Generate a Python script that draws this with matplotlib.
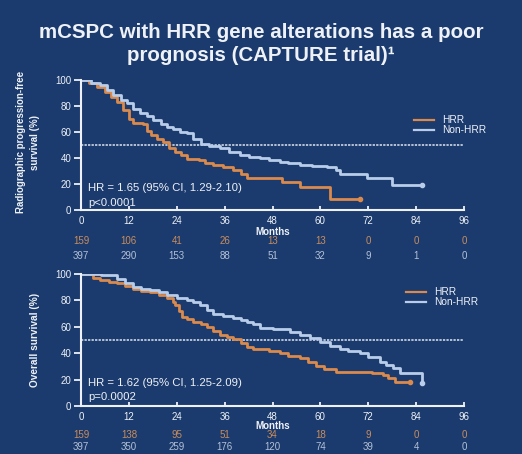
import matplotlib
matplotlib.use("Agg")
import matplotlib.pyplot as plt
import matplotlib.transforms as mtransforms

plt.rcParams['font.family'] = ['Liberation Sans', 'DejaVu Sans']

# ---- data ----
months_ticks = [0, 12, 24, 36, 48, 60, 72, 84, 96]

# rPFS
rpfs_hrr_t = [0, 2, 4, 6, 7.5, 9, 10.5, 12, 13, 15.5, 16.5, 17.5, 19, 20.5, 22, 23.5, 25, 26.5,
              29.5, 31, 33, 35.5, 38, 40, 41.5, 49.5, 50.5, 55, 62.5, 70]
rpfs_hrr_s = [100, 98, 95, 91, 87, 83, 77, 70, 67, 66, 61, 58, 55, 52, 48, 45, 42, 39,
              38.5, 36, 34.6, 33, 31, 28, 24.5, 24.5, 21.8, 18, 8.2, 8.2]
rpfs_non_t = [0, 2.5, 4.8, 6.5, 8, 10, 11.5, 13, 14.8, 16.5, 18, 20, 21.5, 23, 24.8, 26.5, 28, 30,
              32, 34.8, 37, 39.8, 42, 44.8, 47, 49.9, 52, 54.9, 58, 61.6, 64, 65, 71.6, 78, 85.5]
rpfs_non_s = [100, 98, 96, 92, 88.5, 85, 82, 78, 74.4, 72, 69, 66.5, 64, 62, 60, 59, 55, 51,
              49.5, 47.4, 45, 42.3, 41, 40, 38.5, 37, 36, 34.6, 34, 33, 31, 27.7, 25, 19.2, 19.2]
rpfs_risk_hrr = [159, 106, 41, 26, 13, 13, 0, 0, 0]
rpfs_risk_non = [397, 290, 153, 88, 51, 32, 9, 1, 0]

# OS
os_hrr_t = [0, 3, 4.8, 7, 9, 11, 13, 15, 17.3, 19.5, 21.5, 23, 23.6, 24.5, 25.2, 26.5, 28, 30,
            31.5, 33, 34.8, 36.5, 38, 40, 41.5, 43, 44.8, 47, 49.9, 52, 54.9, 57, 59, 61, 64,
            69.9, 73, 75.7, 77, 78.7, 82.5]
os_hrr_s = [100, 97, 95.5, 94, 93, 91, 89, 87.5, 86, 84, 81.6, 79, 76.5, 72, 67.7, 66, 63.9, 62,
            60, 57, 53.8, 52, 50.5, 48, 45, 43.5, 43, 42, 40, 38, 36, 33, 30.3, 28, 26,
            25.5, 25, 23.5, 21, 18.4, 18.4]
os_non_t = [0, 5, 7.3, 9, 11, 13, 15, 17.3, 19.5, 21.5, 24, 26.5, 28, 29.8, 31.5, 33, 35.5, 38,
            40, 41.5, 43, 44.8, 48, 52.4, 55, 57.4, 60, 62.4, 65, 67, 69.9, 72, 74.9, 76.5, 78.2,
            79.9, 85.5, 85.5]
os_non_s = [100, 99.5, 99, 96, 93, 90.4, 89, 88, 86, 84, 82, 80.3, 78.5, 76.5, 73, 70, 68, 67,
            65.5, 64, 62, 59.3, 58, 56.3, 54, 51.3, 48.5, 45.5, 43.5, 42, 40, 37.5, 33.6, 31, 28.5,
            25.3, 25.3, 17.7]
os_risk_hrr = [159, 138, 95, 51, 34, 18, 9, 0, 0]
os_risk_non = [397, 350, 259, 176, 120, 74, 39, 4, 0]

# ---- style ----
bg = '#1b3b6e'
white = '#eef1f6'
c_hrr = '#d98a4c'
c_non = '#b9cdea'
c_risk_hrr = '#c98d5c'
c_risk_non = '#b4c1d6'

W, H = 522, 454
fig = plt.figure(figsize=(W / 100, H / 100), dpi=100, facecolor=bg)


def fy(py):
    return 1 - py / H


fig.text(0.5, fy(32), 'mCSPC with HRR gene alterations has a poor', ha='center', va='center',
         color=white, fontsize=14.8, fontweight='bold')
fig.text(0.5, fy(55.5), 'prognosis (CAPTURE trial)¹', ha='center', va='center',
         color=white, fontsize=14.8, fontweight='bold')


def km_panel(top_px, bot_px, hrr, non, risk_hrr, risk_non, hr_text, p_text,
             hr_py, p_py, months_py, rh_py, rn_py, leg_anchor):
    ax = fig.add_axes([81 / W, 1 - bot_px / H, (464 - 81) / W, (bot_px - top_px) / H])
    ax.set_facecolor('none')
    ax.set_xlim(0, 96)
    ax.set_ylim(0, 100)
    for s in ['top', 'right']:
        ax.spines[s].set_visible(False)
    for s in ['left', 'bottom']:
        ax.spines[s].set_color(white)
        ax.spines[s].set_linewidth(1.5)
    ax.set_xticks(months_ticks)
    ax.set_yticks([0, 20, 40, 60, 80, 100])
    ax.tick_params(axis='y', direction='out', length=5, width=1.3, colors=white,
                   labelsize=7, pad=2)
    ax.tick_params(axis='x', direction='in', length=3, width=1.3, colors=white,
                   labelsize=7, pad=4)
    ax.hlines(50, 0, 96, colors='#dfe5ef', linestyles=(0, (1.5, 0.8)), lw=1.1)

    ax.step(hrr[0], hrr[1], where='post', color=c_hrr, lw=2, label='HRR',
            marker='o', markersize=3, markevery=[len(hrr[0]) - 1])
    ax.step(non[0], non[1], where='post', color=c_non, lw=2, label='Non-HRR',
            marker='o', markersize=3, markevery=[len(non[0]) - 1])

    tr = mtransforms.blended_transform_factory(ax.transData, fig.transFigure)
    ax.text(1.7, fy(hr_py), hr_text, transform=tr, color=white, fontsize=8.2, va='center')
    ax.text(1.7, fy(p_py), p_text, transform=tr, color=white, fontsize=8.2, va='center')

    ax.text(48, fy(months_py), 'Months', transform=tr, color=white, fontsize=7,
            fontweight='bold', ha='center', va='center')
    for m, a, b in zip(months_ticks, risk_hrr, risk_non):
        ax.text(m, fy(rh_py), str(a), transform=tr, color=c_risk_hrr, fontsize=7,
                ha='center', va='center', clip_on=False)
        ax.text(m, fy(rn_py), str(b), transform=tr, color=c_risk_non, fontsize=7,
                ha='center', va='center', clip_on=False)

    leg = ax.legend(loc='upper left', bbox_to_anchor=leg_anchor, frameon=False,
                    fontsize=7.3, handlelength=2.0, handletextpad=0.8, labelspacing=0.0,
                    borderpad=0, borderaxespad=0)
    for h in leg.get_lines():
        h.set_marker('')
        h.set_linewidth(1.6)
    for t in leg.get_texts():
        t.set_color(white)
    return ax


km_panel(80, 210, (rpfs_hrr_t, rpfs_hrr_s), (rpfs_non_t, rpfs_non_s),
         rpfs_risk_hrr, rpfs_risk_non,
         'HR = 1.65 (95% CI, 1.29-2.10)', 'p<0.0001', 188, 202.5,
         232, 240.7, 255.7, (0.8695, 0.73))
km_panel(274, 406, (os_hrr_t, os_hrr_s), (os_non_t, os_non_s),
         os_risk_hrr, os_risk_non,
         'HR = 1.62 (95% CI, 1.25-2.09)', 'p=0.0002', 383, 396.7,
         426, 435, 447, (0.8486, 0.90))

fig.text(21.5 / W, fy(142), 'Radiographic progression-free', rotation=90, ha='center',
         va='center', color=white, fontsize=7, fontweight='bold')
fig.text(35 / W, fy(142), 'survival (%)', rotation=90, ha='center',
         va='center', color=white, fontsize=7, fontweight='bold')
fig.text(35.5 / W, fy(340), 'Overall survival (%)', rotation=90, ha='center',
         va='center', color=white, fontsize=7.3, fontweight='bold')

fig.savefig('out.png', dpi=100, facecolor=bg)
